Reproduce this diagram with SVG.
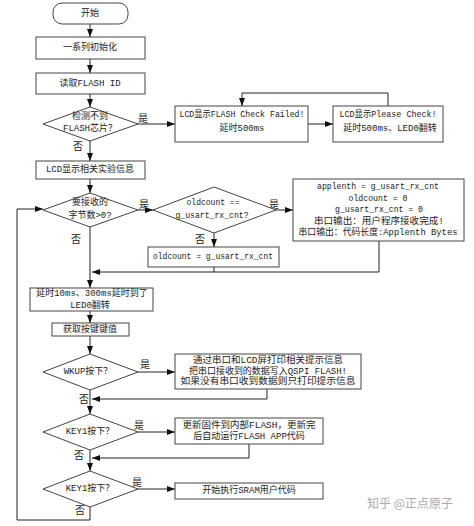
<svg xmlns="http://www.w3.org/2000/svg" width="474" height="526" viewBox="0 0 474 526">
<style>
.b{fill:#fff;stroke:#444;stroke-width:1}
.c{fill:none;stroke:#222;stroke-width:1}
.t{font-family:"Liberation Mono","Noto Sans CJK SC",monospace;font-size:9px;fill:#222;text-anchor:middle;dominant-baseline:central}
.l{font-family:"Noto Sans CJK SC",sans-serif;font-size:10px;fill:#222;text-anchor:middle;dominant-baseline:central}
</style>
<defs>
<marker id="a" markerWidth="8" markerHeight="6" refX="8" refY="3" orient="auto" markerUnits="userSpaceOnUse"><path d="M0,0L8,3L0,6z" fill="#111"/></marker>
</defs>
<rect width="474" height="526" fill="#fff"/>
<g id="connectors" class="c" marker-end="url(#a)">
<path d="M90,24V37"/>
<path d="M90,59V73"/>
<path d="M90,94V107"/>
<path d="M138,124H175"/>
<path d="M308,124H333"/>
<path d="M388,106V93H242V106"/>
<path d="M90,141V161"/>
<path d="M90,179V193"/>
<path d="M138,210H153"/>
<path d="M276,210H293"/>
<path d="M214,233V247"/>
<path d="M214,267V272" marker-end="none"/>
<path d="M379,241V272H92"/>
<path d="M90,227V288"/>
<path d="M90,311V323"/>
<path d="M90,336V354"/>
<path d="M138,372H175"/>
<path d="M267,389V399H92"/>
<path d="M90,390V414"/>
<path d="M138,432H175"/>
<path d="M249,444V458H92"/>
<path d="M90,450V471"/>
<path d="M138,489H175"/>
<path d="M90,507V520H17V209H43"/>
</g>
<g id="labels">
<text class="l" x="143" y="117">是</text>
<text class="l" x="78" y="145">否</text>
<text class="l" x="144" y="203">是</text>
<text class="l" x="274" y="203">是</text>
<text class="l" x="200" y="238">否</text>
<text class="l" x="76" y="238">否</text>
<text class="l" x="145" y="363">是</text>
<text class="l" x="84" y="398">否</text>
<text class="l" x="139" y="424">是</text>
<text class="l" x="79" y="454">否</text>
<text class="l" x="137" y="481">是</text>
<text class="l" x="80" y="509">否</text>
</g>
<g id="start"><rect class="b" x="53" y="3" width="75" height="21" rx="9"/><text class="t" x="90" y="14">开始</text></g>
<g id="init"><rect class="b" x="36" y="37" width="109" height="22"/><text class="t" x="90" y="48">一系列初始化</text></g>
<g id="readid"><rect class="b" x="36" y="73" width="109" height="21"/><text class="t" x="90" y="83.5">读取FLASH ID</text></g>
<g id="chkflash"><path class="b" d="M90,107L138,124L90,141L43,124z"/><text class="t" x="90" y="117">检测不到</text><text class="t" x="90" y="129">FLASH芯片？</text></g>
<g id="failed"><rect class="b" x="175" y="106" width="133" height="36"/><text class="t" x="242" y="115" textLength="125" lengthAdjust="spacingAndGlyphs">LCD显示FLASH Check Failed!</text><text class="t" x="242" y="129">延时500ms</text></g>
<g id="please"><rect class="b" x="333" y="106" width="110" height="36"/><text class="t" x="388" y="115" textLength="97" lengthAdjust="spacingAndGlyphs">LCD显示Please Check!</text><text class="t" x="390" y="129">延时500ms、LED0翻转</text></g>
<g id="lcdinfo"><rect class="b" x="36" y="161" width="109" height="18"/><text class="t" x="90" y="170">LCD显示相关实验信息</text></g>
<g id="recv"><path class="b" d="M90,193L138,210L90,227L43,210z"/><text class="t" x="90" y="203">要接收的</text><text class="t" x="90" y="216">字节数&gt;0?</text></g>
<g id="oldeq"><path class="b" d="M214,187L276,210L214,233L153,210z"/><text class="t" x="213" y="203" textLength="53" lengthAdjust="spacingAndGlyphs">oldcount ==</text><text class="t" x="212" y="216" textLength="73" lengthAdjust="spacingAndGlyphs">g_usart_rx_cnt?</text></g>
<g id="done"><rect class="b" x="293" y="179" width="171" height="62"/>
<text class="t" x="378" y="187" textLength="122" lengthAdjust="spacingAndGlyphs">applenth = g_usart_rx_cnt</text>
<text class="t" x="378" y="198.5" textLength="59" lengthAdjust="spacingAndGlyphs">oldcount = 0</text>
<text class="t" x="379" y="210" textLength="88" lengthAdjust="spacingAndGlyphs">g_usart_rx_cnt = 0</text>
<text class="t" x="379" y="221.5" textLength="130" lengthAdjust="spacingAndGlyphs">串口输出：用户程序接收完成!</text>
<text class="t" x="378" y="233" textLength="159" lengthAdjust="spacingAndGlyphs">串口输出：代码长度:Applenth Bytes</text></g>
<g id="oldset"><rect class="b" x="148" y="247" width="131" height="20"/><text class="t" x="213" y="257" textLength="120" lengthAdjust="spacingAndGlyphs">oldcount = g_usart_rx_cnt</text></g>
<g id="delay"><rect class="b" x="30" y="288" width="123" height="23"/><text class="t" x="92" y="294">延时10ms、300ms延时到了</text><text class="t" x="90" y="305.5">LED0翻转</text></g>
<g id="getkey"><rect class="b" x="52" y="323" width="77" height="13"/><text class="t" x="90" y="329.5">获取按键键值</text></g>
<g id="wkup"><path class="b" d="M90,354L138,372L90,390L43,372z"/><text class="t" x="88" y="372">WKUP按下？</text></g>
<g id="wkupact"><rect class="b" x="175" y="354" width="186" height="35"/>
<text class="t" x="268" y="361" textLength="150" lengthAdjust="spacingAndGlyphs">通过串口和LCD屏打印相关提示信息</text>
<text class="t" x="268" y="371.5" textLength="158" lengthAdjust="spacingAndGlyphs">把串口接收到的数据写入QSPI FLASH!</text>
<text class="t" x="268" y="382" textLength="175" lengthAdjust="spacingAndGlyphs">如果没有串口收到数据则只打印提示信息</text></g>
<g id="key1a"><path class="b" d="M90,414L138,432L90,450L43,432z"/><text class="t" x="90" y="432">KEY1按下？</text></g>
<g id="update"><rect class="b" x="175" y="418" width="148" height="26"/><text class="t" x="249" y="426" textLength="133" lengthAdjust="spacingAndGlyphs">更新固件到内部FLASH，更新完</text><text class="t" x="249" y="437">后自动运行FLASH APP代码</text></g>
<g id="key1b"><path class="b" d="M90,471L138,489L90,507L43,489z"/><text class="t" x="90" y="489">KEY1按下？</text></g>
<g id="runsram"><rect class="b" x="175" y="483" width="148" height="16"/><text class="t" x="249" y="491">开始执行SRAM用户代码</text></g>
<text x="410" y="502" font-family="Noto Sans CJK SC,sans-serif" font-size="12" fill="#aaa" text-anchor="middle" dominant-baseline="central">知乎 @正点原子</text>
</svg>
